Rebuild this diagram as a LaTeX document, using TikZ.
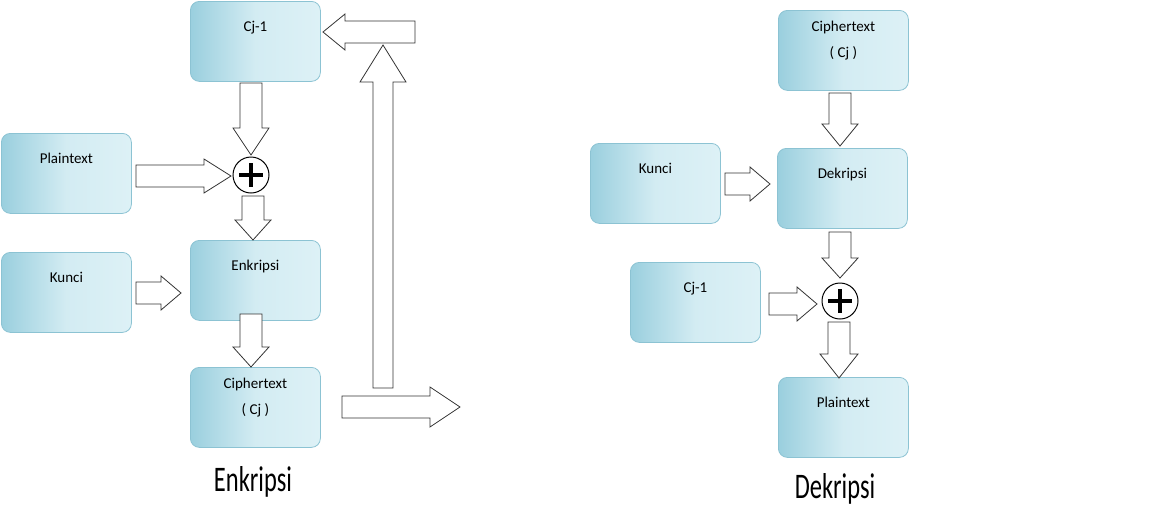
\documentclass[tikz,border=0pt]{standalone}
\usepackage{fontspec}
\setmainfont{Carlito}
\usetikzlibrary{calc}
\definecolor{bA}{HTML}{9ACFDE}
\definecolor{bB}{HTML}{DDF1F6}
\definecolor{bE}{HTML}{8CC3D3}
\tikzset{
  box/.style={draw=bE,line width=0.8pt,rounded corners=9pt,left color=bA,right color=bB,middle color=bB!85!bA,
    minimum width=130pt,minimum height=80pt,anchor=north west,font=\fontsize{15}{18}\selectfont,align=center},
  xo/.style={circle,draw,line width=1pt,minimum size=36pt,inner sep=0pt,fill=white},
  ba/.style={draw=black!80,line width=0.8pt,fill=white},
  ttl/.style={font=\fontsize{36}{38}\selectfont,xscale=0.68}
}
\newcommand\rarr[6]{\draw[ba] (#1,#3-#4)--(#2-#6,#3-#4)--(#2-#6,#3-#5)--(#2,#3)--(#2-#6,#3+#5)--(#2-#6,#3+#4)--(#1,#3+#4)--cycle;}
\newcommand\larr[6]{\draw[ba] (#2,#3-#4)--(#1+#6,#3-#4)--(#1+#6,#3-#5)--(#1,#3)--(#1+#6,#3+#5)--(#1+#6,#3+#4)--(#2,#3+#4)--cycle;}
\newcommand\darr[6]{\draw[ba] (#3-#4,#1)--(#3-#4,#2-#6)--(#3-#5,#2-#6)--(#3,#2)--(#3+#5,#2-#6)--(#3+#4,#2-#6)--(#3+#4,#1)--cycle;}
\newcommand\uarr[6]{\draw[ba] (#3-#4,#2)--(#3-#4,#1+#6)--(#3-#5,#1+#6)--(#3,#1)--(#3+#5,#1+#6)--(#3+#4,#1+#6)--(#3+#4,#2)--cycle;}
\newcommand\xplus[1]{\draw[line width=3.5pt] ($(#1)+(-12,0)$)--($(#1)+(12,0)$) ($(#1)+(0,-12)$)--($(#1)+(0,12)$);}
\begin{document}
\begin{tikzpicture}[x=1pt,y=-1pt]
\useasboundingbox (0,0) rectangle (1152,512);
\node[box] (cj) at (190,1) {Cj-1\\[12pt]};
\node[box] (pt) at (1,133) {Plaintext\\[12pt]};
\node[box] (ku) at (1,252) {Kunci\\[12pt]};
\node[box] (en) at (190,240) {Enkripsi\\[12pt]};
\node[box] (ci) at (190,367) {Ciphertext\\[8pt]( Cj )\\[4pt]};
\node[xo] (x1) at (251,175) {}; \xplus{x1}
\darr{83}{155}{251}{11}{18}{27}
\rarr{136}{231}{176}{11}{17}{27}
\darr{196}{240}{253}{11}{18}{20}
\rarr{136}{181}{293}{11}{17}{20}
\darr{314}{367}{251}{11}{18}{20}
\uarr{45}{388}{383}{10}{23}{37}
\larr{323}{415}{32}{11}{18}{22}
\rarr{342}{460}{407}{11}{20}{30}
\node[ttl] (t1) at (253,482) {Enkripsi};
\node[box] (ci2) at (778,10) {Ciphertext\\[8pt]( Cj )\\[4pt]};
\node[box] (de) at (777,148) {Dekripsi\\[12pt]};
\node[box] (ku2) at (590,143) {Kunci\\[12pt]};
\node[box] (cj2) at (630,262) {Cj-1\\[12pt]};
\node[box] (pt2) at (778,377) {Plaintext\\[12pt]};
\node[xo] (x2) at (840,301) {}; \xplus{x2}
\darr{93}{146}{840}{11}{18}{22}
\rarr{725}{770}{184}{11}{17}{20}
\darr{232}{278}{840}{11}{18}{20}
\rarr{769}{817}{304}{11}{17}{20}
\darr{322}{378}{839}{11}{19}{24}
\node[ttl] (t2) at (835,489) {Dekripsi};
\end{tikzpicture}
\end{document}
